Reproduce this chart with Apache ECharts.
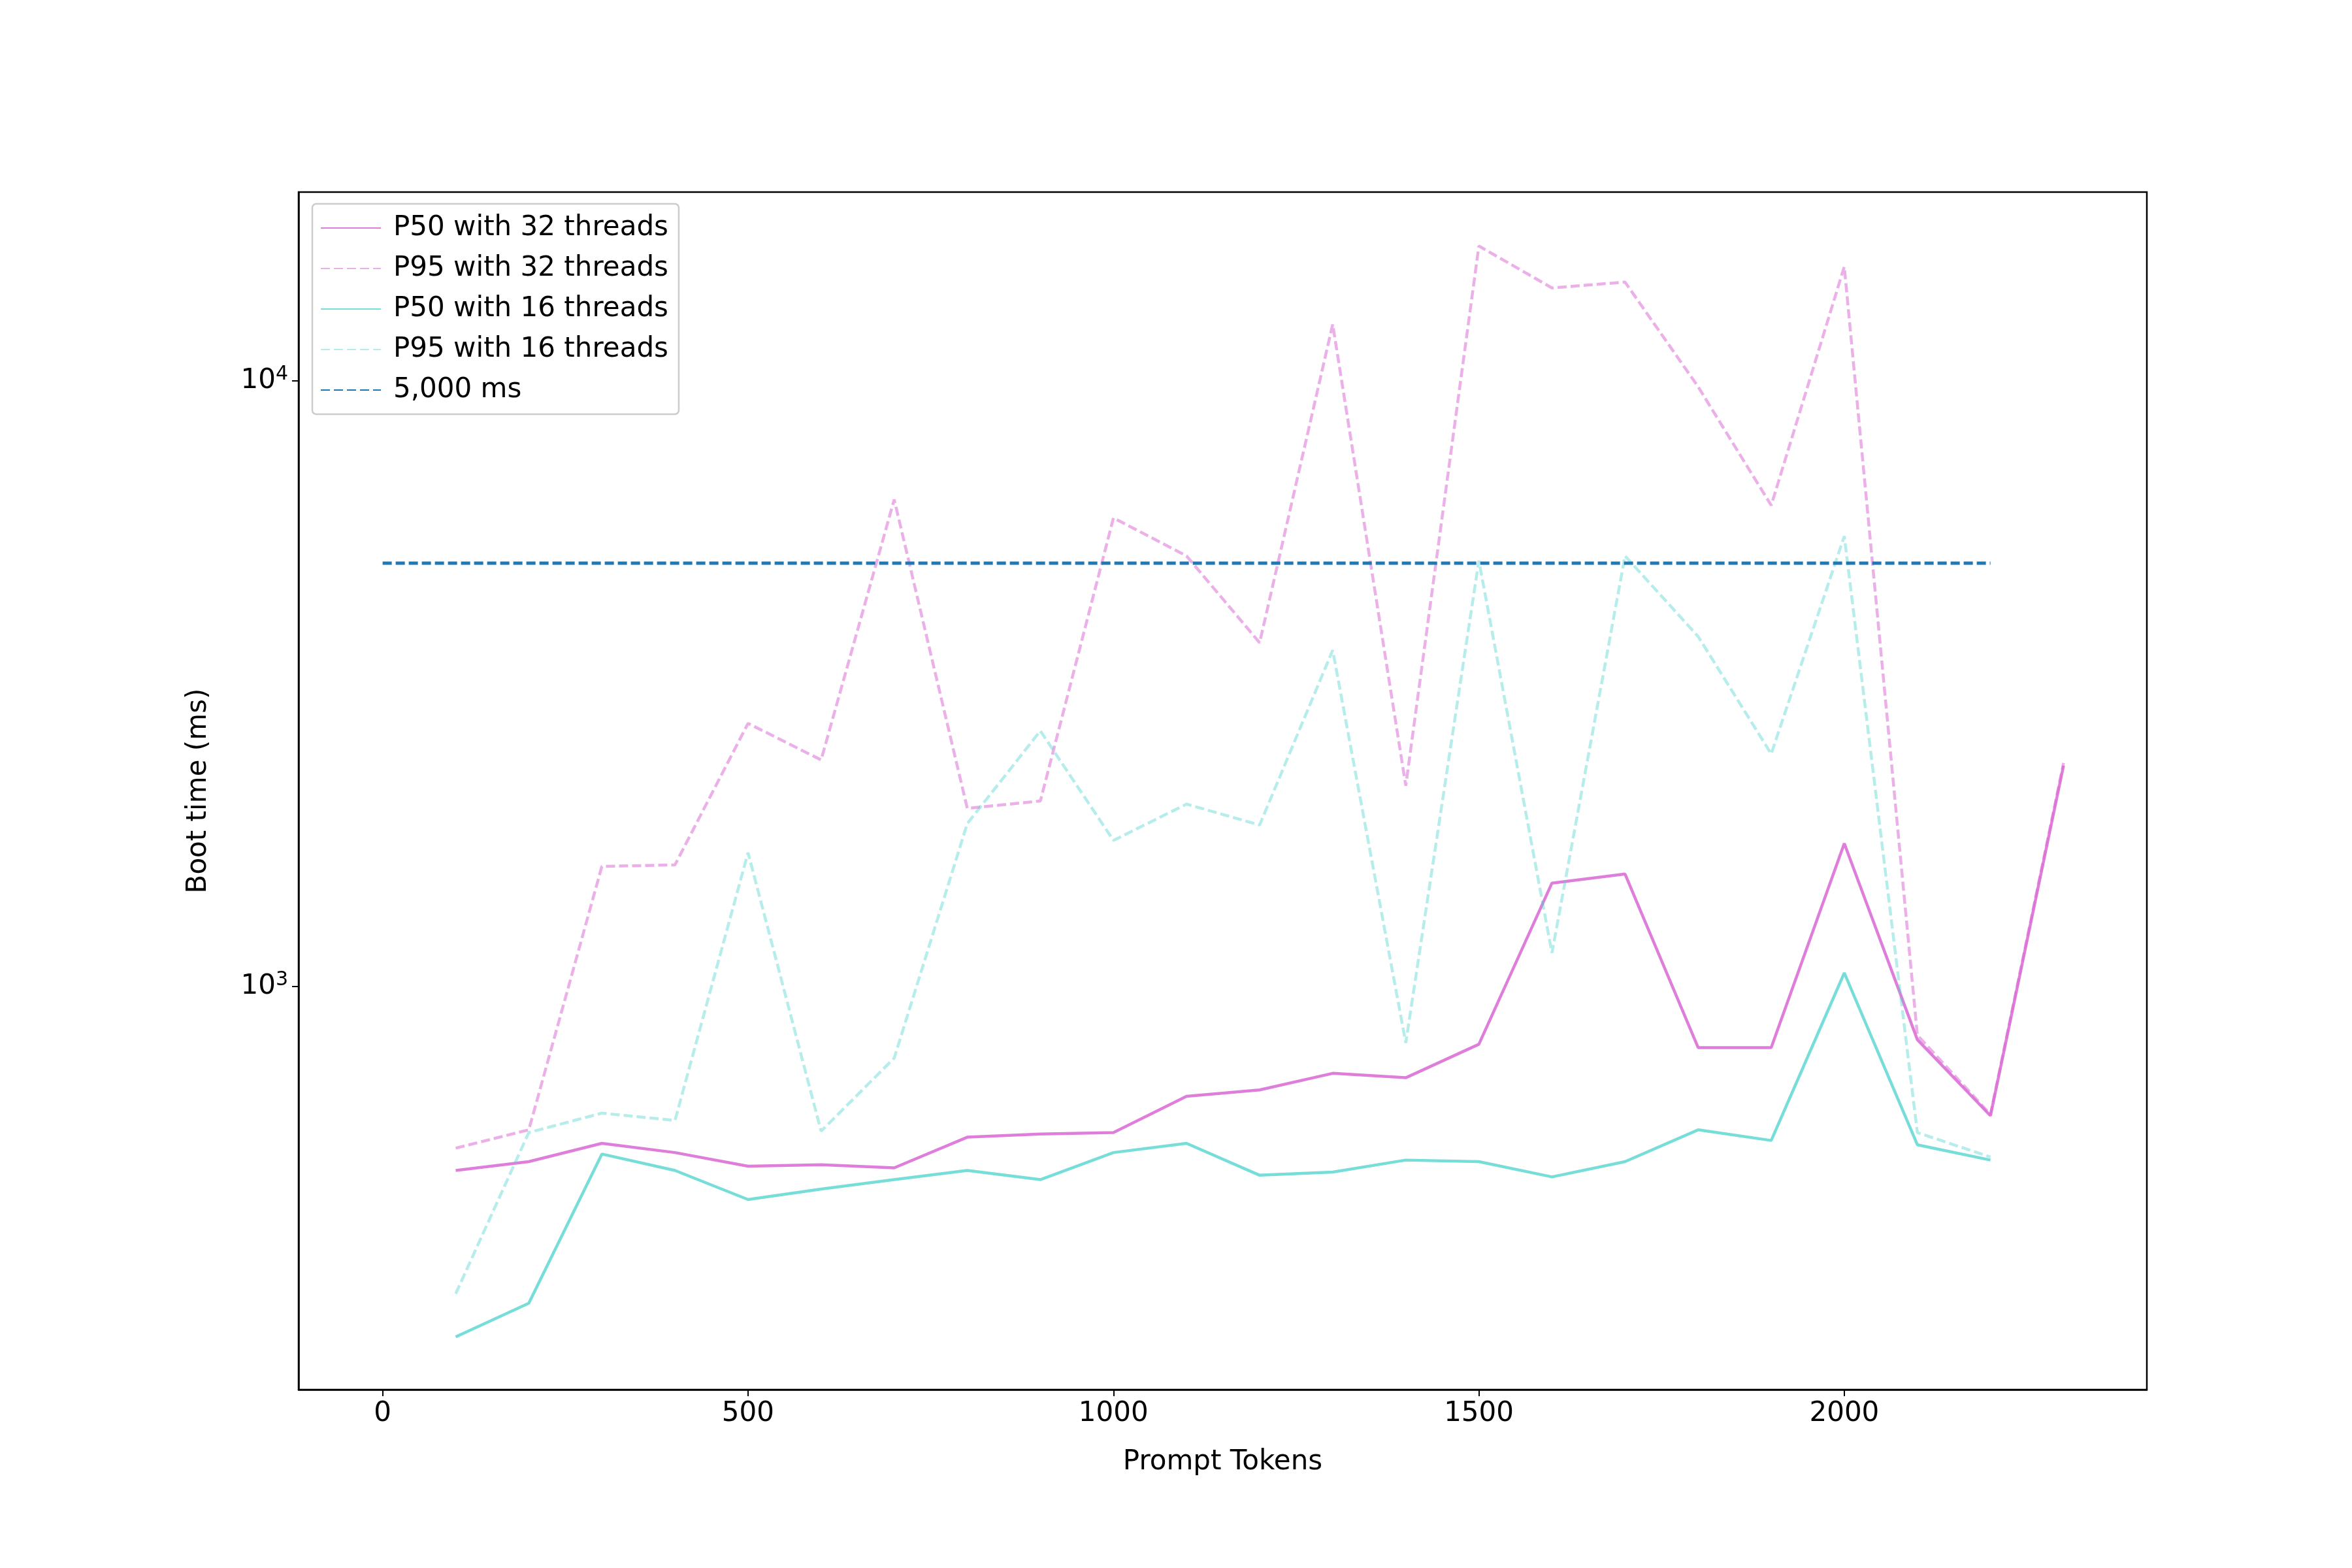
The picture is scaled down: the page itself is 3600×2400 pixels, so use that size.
<!DOCTYPE html>
<html><head><meta charset="utf-8">
<script src="https://cdn.jsdelivr.net/npm/echarts@6/dist/echarts.min.js"></script>
<style>html,body{margin:0;padding:0;background:#fff}#c{width:3600px;height:2400px}</style>
</head><body><div id="c"></div>
<script>
const tokens32 = [100,200,300,400,500,600,700,800,900,1000,1100,1200,1300,1400,1500,1600,1700,1800,1900,2000,2100,2200,2300];
const tokens16 = [100,200,300,400,500,600,700,800,900,1000,1100,1200,1300,1400,1500,1600,1700,1800,1900,2000,2100,2200];
const p50_32 = [497,514,551,532,505,508,502,564,571,574,659,675,719,707,803,1482,1534,793,793,1723,817,612,2316];
const p95_32 = [541,580,1579,1588,2720,2367,6370,1969,2025,5940,5140,3696,12400,2146,16700,14240,14560,9780,6230,15440,831,615,2340];
const p50_16 = [264,300,529,497,445,463,480,497,480,532,551,488,494,517,514,485,514,580,557,1053,548,517];
const p95_16 = [311,574,618,601,1664,577,762,1858,2643,1743,2001,1848,3592,807,5050,1136,5140,3785,2422,5540,574,523];
const thresholdX = [0,2200];
const thresholdY = [5000,5000];
const xTicks = [0,500,1000,1500,2000];
const yTicks = [1000,10000];

const zip = (xs, ys) => xs.map((x,i)=>[x,ys[i]]);
const font = 'DejaVu Sans';
const mk = (name, xs, ys, color, type, opacity, width) => ({
  name, type:'line', data: zip(xs, ys), showSymbol:false, symbol:'none',
  lineStyle:{color, width:width||4.5, type, opacity}, itemStyle:{color, opacity}
});
const chart = echarts.init(document.getElementById('c'));
chart.setOption({
  animation:false,
  textStyle:{fontFamily:font},
  grid:{left:457,right:314,top:294,bottom:273,show:true,borderColor:'#000',borderWidth:2.5,backgroundColor:'transparent'},
  legend:{
    left:478, top:312, orient:'vertical', itemGap:20, itemWidth:92, itemHeight:22,
    padding:[16,16,16,12], borderColor:'#ccc', borderWidth:2.5, borderRadius:6, backgroundColor:'rgba(255,255,255,0.8)',
    textStyle:{fontSize:42, fontFamily:font, color:'#000', padding:[0,0,0,14]},
    itemStyle:{opacity:0},
    data:['P50 with 32 threads','P95 with 32 threads','P50 with 16 threads','P95 with 16 threads','5,000 ms']
  },
  xAxis:{
    type:'value', min:-115, max:2414,
    name:'Prompt Tokens', nameLocation:'middle', nameGap:90,
    nameTextStyle:{fontSize:42, color:'#000', fontFamily:font},
    axisLine:{show:true,onZero:false,lineStyle:{color:'#000',width:2.5}},
    axisTick:{show:true,length:10,lineStyle:{color:'#000',width:2},customValues:xTicks},
    axisLabel:{fontSize:42,color:'#000',margin:16,customValues:xTicks,fontFamily:font,formatter:v=>String(v)},
    splitLine:{show:false}
  },
  yAxis:{
    type:'log', logBase:10, min:216, max:20500,
    name:'Boot time (ms)', nameLocation:'middle', nameGap:132, nameRotate:90,
    nameTextStyle:{fontSize:42, color:'#000', fontFamily:font},
    axisLine:{show:true,onZero:false,lineStyle:{color:'#000',width:2.5}},
    axisTick:{show:true,length:10,lineStyle:{color:'#000',width:2},customValues:yTicks},
    axisLabel:{color:'#000',margin:16,customValues:yTicks,
      formatter:v=>'{b|10}{s|'+Math.round(Math.log10(v))+'}',
      rich:{b:{fontSize:42,fontFamily:font,color:'#000'},s:{fontSize:30,fontFamily:font,color:'#000',verticalAlign:'top',padding:[0,0,20,0]}}},
    minorTick:{show:false},
    splitLine:{show:false}
  },
  series:[
    mk('P50 with 32 threads', tokens32, p50_32, '#da70d6', 'solid', 0.9),
    mk('P95 with 32 threads', tokens32, p95_32, '#da70d6', [14,6], 0.55),
    mk('P50 with 16 threads', tokens16, p50_16, '#48d1cc', 'solid', 0.75),
    mk('P95 with 16 threads', tokens16, p95_16, '#48d1cc', [14,6], 0.4),
    mk('5,000 ms', thresholdX, thresholdY, '#1f77b4', [14,6], 1, 5)
  ]
});
</script></body></html>
